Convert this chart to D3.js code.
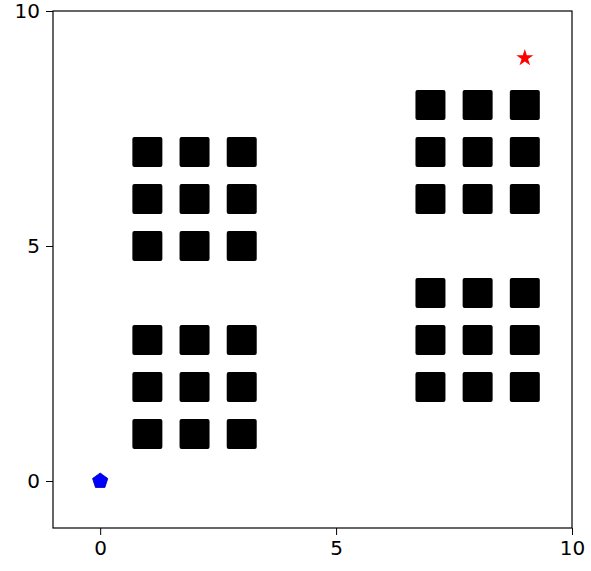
<!DOCTYPE html>
<html><head><meta charset="utf-8">
<script src="https://cdn.jsdelivr.net/npm/d3@7"></script>
<style>body{margin:0;background:#fff}text{font-family:"DejaVu Sans",sans-serif}</style>
</head><body>
<div id="chart"></div>
<script>
var obstacleX = [1, 2, 3, 1, 2, 3, 1, 2, 3, 1, 2, 3, 1, 2, 3, 1, 2, 3,
                 7, 8, 9, 7, 8, 9, 7, 8, 9, 7, 8, 9, 7, 8, 9, 7, 8, 9]
var obstacleY = [1, 1, 1, 2, 2, 2, 3, 3, 3, 5, 5, 5, 6, 6, 6, 7, 7, 7,
                 2, 2, 2, 3, 3, 3, 4, 4, 4, 6, 6, 6, 7, 7, 7, 8, 8, 8]
var start = [0, 0]
var goal = [9, 9]
var ticks = [0, 5, 10]

var margin = {top: 11, right: 19, bottom: 43, left: 53}
var width = 591 - margin.left - margin.right
var height = 571 - margin.top - margin.bottom

var svg = d3.select('#chart').append('svg')
    .attr('width', 591).attr('height', 571)
    .append('g')
    .attr('transform', `translate(${margin.left}, ${margin.top})`)

var xScale = d3.scaleLinear().domain([-1, 10]).range([0, width])
var yScale = d3.scaleLinear().domain([-1, 10]).range([height, 0])

var xAxis = svg.append('g').attr('transform', `translate(0, ${height})`)
    .call(d3.axisBottom(xScale).tickValues(ticks).tickSize(7).tickPadding(6))
var yAxis = svg.append('g')
    .call(d3.axisLeft(yScale).tickValues(ticks).tickSize(7).tickPadding(6))
;[xAxis, yAxis].forEach(a => {
    a.selectAll('text').style('font-size', '20px').attr('fill', '#000')
    a.select('.domain').remove()
})

var s = 30
svg.selectAll('rect.obs').data(obstacleX).enter().append('rect')
    .attr('class', 'obs')
    .attr('x', (d) => xScale(d) - s / 2)
    .attr('y', (d, i) => yScale(obstacleY[i]) - s / 2)
    .attr('width', s).attr('height', s).attr('rx', 2)
    .attr('fill', '#000')

// pentagon marker (d3 has no built-in one)
var pent = d3.range(5).map(i => {
    var a = -Math.PI / 2 + i * 2 * Math.PI / 5
    return [8 * Math.cos(a), 8 * Math.sin(a)]
})
svg.append('path')
    .attr('d', d3.line()(pent) + 'Z')
    .attr('transform', `translate(${xScale(start[0])}, ${yScale(start[1])})`)
    .attr('fill', '#0000ff')
    .attr('stroke', '#0000aa').attr('stroke-width', 0.8)

svg.append('path')
    .attr('d', d3.symbol().type(d3.symbolStar).size(90)())
    .attr('transform', `translate(${xScale(goal[0])}, ${yScale(goal[1])})`)
    .attr('fill', '#ff0000')

svg.append('rect').attr('width', width).attr('height', height)
    .attr('fill', 'none').attr('stroke', '#000').attr('stroke-width', 1.2)
</script>
</body></html>
